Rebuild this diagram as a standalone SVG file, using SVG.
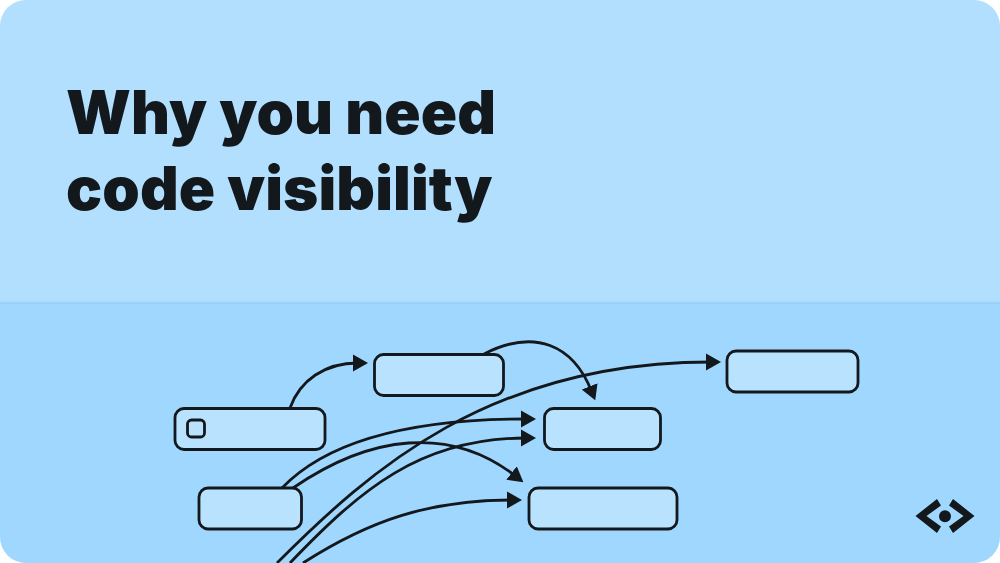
<svg xmlns="http://www.w3.org/2000/svg" width="1000" height="563" viewBox="0 0 1000 563">
<style>
.n{fill:#b9e2ff;stroke:#12181c;stroke-width:2.8}
.c{fill:none;stroke:#12181c;stroke-width:2.8;marker-end:url(#a)}
.t{font-family:Inter,"Liberation Sans",sans-serif;font-weight:900;font-size:60px;letter-spacing:0.1px;fill:#12181c}
</style>
<defs>
<marker id="a" markerUnits="userSpaceOnUse" markerWidth="16" markerHeight="18" refX="5" refY="9" orient="auto" viewBox="0 0 16 18"><path d="M0 0.500L15 9L0 17.500Z" fill="#12181c"/></marker>
<clipPath id="cl"><rect width="1000" height="563" rx="26"/></clipPath>
<linearGradient id="sh" x1="0" y1="0" x2="0" y2="1"><stop offset="0" stop-color="#a0d7ff" stop-opacity="0"/><stop offset="1" stop-color="#8fcbf3"/></linearGradient>
</defs>
<g clip-path="url(#cl)">
<rect width="1000" height="304" fill="#b3dfff"/>
<rect y="304" width="1000" height="259" fill="#a0d7ff"/>
<rect y="300" width="1000" height="4" fill="url(#sh)"/>
</g>
<g id="title"><text class="t" x="66" y="134">Why you need</text><text class="t" x="66" y="210">code visibility</text></g>
<g id="connectors">
<path class="c" d="M290 408C300 380 325 363 358 363"/>
<path class="c" d="M484 354C535 328 573 345 591.500 391"/>
<path class="c" d="M277 563C370 470 490 362 711 362"/>
<path class="c" d="M282 488C330 438 420 419 526 419"/>
<path class="c" d="M293 488C370 435 450 425 515.500 476"/>
<path class="c" d="M290 563C360 490 420 438 526 438"/>
<path class="c" d="M303 563C370 520 430 500 512 500"/>
</g>
<g id="node-1"><rect class="n" x="175" y="408.500" width="150" height="41" rx="9"/><rect class="n" x="187.500" y="420" width="17" height="17" rx="4"/></g>
<g id="node-2"><rect class="n" x="374.500" y="354.500" width="129" height="41" rx="9"/></g>
<g id="node-3"><rect class="n" x="199" y="488" width="102.500" height="41" rx="9"/></g>
<g id="node-4"><rect class="n" x="544.500" y="408.500" width="116" height="41" rx="9"/></g>
<g id="node-5"><rect class="n" x="529" y="488" width="148" height="41" rx="9"/></g>
<g id="node-6"><rect class="n" x="727" y="351" width="131" height="41" rx="9"/></g>
<g id="logo" fill="#12181c"><path d="M915.500 516L937 499L941 505.500L926.500 516L941 526.500L937 533Z"/><path d="M974.500 516L953 499L949 505.500L963.500 516L949 526.500L953 533Z"/><circle cx="945" cy="516.300" r="6"/></g>
</svg>
